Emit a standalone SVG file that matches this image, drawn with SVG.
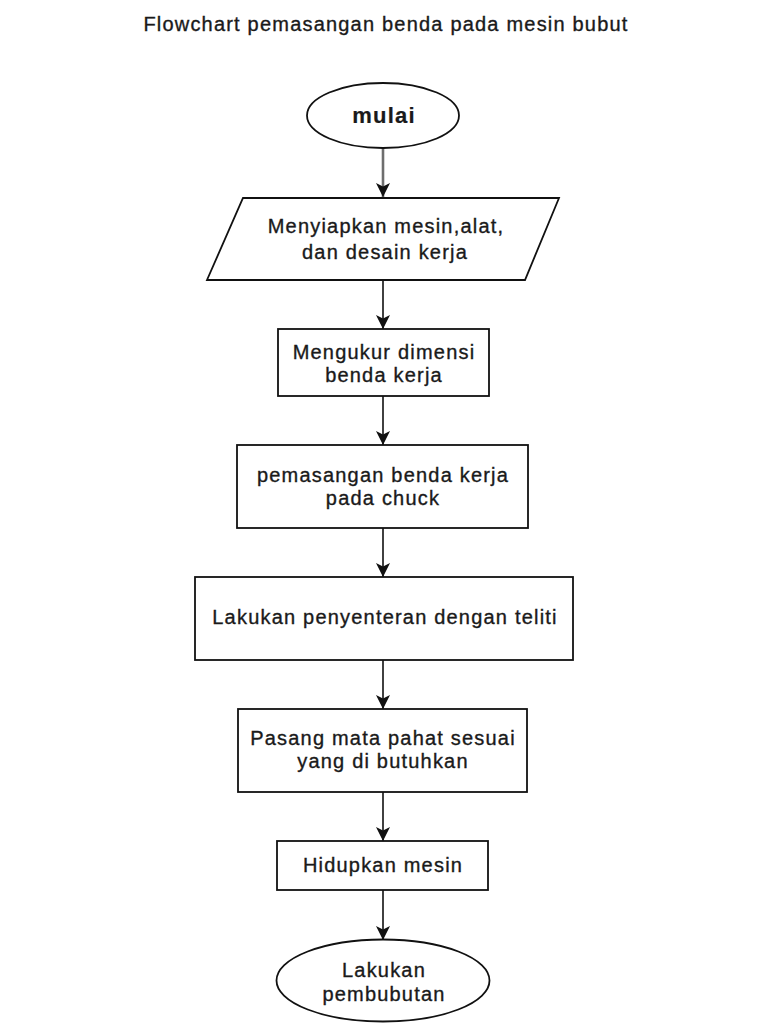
<svg xmlns="http://www.w3.org/2000/svg" width="768" height="1024" viewBox="0 0 768 1024">
<style>
.bg{fill:#ffffff}
.shape{fill:#ffffff;stroke:#111111;stroke-width:1.8}
.t{font-family:"Liberation Sans",Arial,sans-serif;font-size:20px;letter-spacing:1.2px;fill:#1a1a1a;stroke:#1a1a1a;stroke-width:0.35;text-anchor:middle}
.b{font-weight:bold;font-size:22px;stroke-width:0.2}
.edge{fill:none;stroke:#111111;stroke-width:1.6}
.edge1{stroke:#6e6e6e;stroke-width:2.6}
</style>
<defs>
<marker id="arrow" markerUnits="userSpaceOnUse" markerWidth="15" markerHeight="15" refX="14" refY="7" orient="auto">
<path d="M0,0 L14,7 L0,14 L3.5,7 Z" fill="#111111"/>
</marker>
</defs>
<rect class="bg" x="0" y="0" width="768" height="1024"/>
<g id="title">
<text class="t" x="386" y="31">Flowchart pemasangan benda pada mesin bubut</text>
</g>
<g id="connectors">
<path class="edge edge1" d="M383,148 L383,197" marker-end="url(#arrow)"/>
<path class="edge" d="M383,280 L383,329" marker-end="url(#arrow)"/>
<path class="edge" d="M383,396 L383,445" marker-end="url(#arrow)"/>
<path class="edge" d="M383,528 L383,577" marker-end="url(#arrow)"/>
<path class="edge" d="M383,660 L383,709" marker-end="url(#arrow)"/>
<path class="edge" d="M383,792 L383,841" marker-end="url(#arrow)"/>
<path class="edge" d="M383,890 L383,940" marker-end="url(#arrow)"/>
</g>
<g id="n1">
<ellipse class="shape" cx="383" cy="115.5" rx="76" ry="32.5"/>
<text class="t b" x="384" y="123">mulai</text>
</g>
<g id="n2">
<polygon class="shape" points="243,198 559,198 525,280 207,280"/>
<text class="t" x="386" y="233">Menyiapkan mesin,alat,</text>
<text class="t" x="385" y="259">dan desain kerja</text>
</g>
<g id="n3">
<rect class="shape" x="278" y="329" width="211" height="67"/>
<text class="t" x="384" y="359">Mengukur dimensi</text>
<text class="t" x="384" y="382">benda kerja</text>
</g>
<g id="n4">
<rect class="shape" x="237" y="445" width="291" height="83"/>
<text class="t" x="383" y="482">pemasangan benda kerja</text>
<text class="t" x="383" y="505">pada chuck</text>
</g>
<g id="n5">
<rect class="shape" x="195" y="577" width="378" height="83"/>
<text class="t" x="385" y="624">Lakukan penyenteran dengan teliti</text>
</g>
<g id="n6">
<rect class="shape" x="238" y="709" width="289" height="83"/>
<text class="t" x="383" y="745">Pasang mata pahat sesuai</text>
<text class="t" x="383" y="768">yang di butuhkan</text>
</g>
<g id="n7">
<rect class="shape" x="277" y="841" width="211" height="49"/>
<text class="t" x="383" y="872">Hidupkan mesin</text>
</g>
<g id="n8">
<ellipse class="shape" cx="383" cy="980.5" rx="106.5" ry="41"/>
<text class="t" x="384" y="977">Lakukan</text>
<text class="t" x="384" y="1001">pembubutan</text>
</g>
</svg>
